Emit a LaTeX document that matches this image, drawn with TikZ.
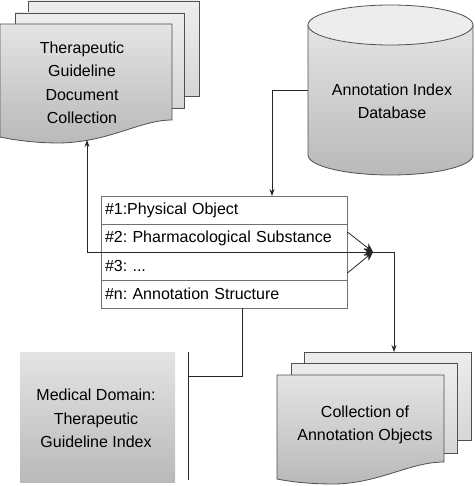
\documentclass[tikz,border=0pt]{standalone}
\usepackage{fontspec}
\setmainfont{Liberation Sans}
\usetikzlibrary{arrows.meta}
\frenchspacing
\definecolor{edgec}{HTML}{505050}
\definecolor{rowc}{HTML}{707070}
\definecolor{pglight}{HTML}{EDEDED}
\definecolor{pgdark}{HTML}{D6D6D6}
\definecolor{frtop}{HTML}{E4E4E4}
\definecolor{frbot}{HTML}{B9B9B9}
\tikzset{
  page/.style={draw=edgec, line width=0.8pt, top color=pglight, bottom color=pgdark},
  frontpage/.style={draw=edgec, line width=0.8pt, top color=frtop, bottom color=frbot},
  label/.style={font=\fontsize{16}{23.5}\selectfont, align=center, inner sep=0pt},
  rowbox/.style={draw=rowc, line width=0.8pt, fill=white, minimum width=246pt, minimum height=28pt,
     text width=238pt, inner xsep=4pt, align=left, font=\fontsize{16}{19}\selectfont},
  conn/.style={draw=black!85, line width=0.8pt},
  arr/.style={conn, -{Stealth[length=7pt,width=5pt]}},
  bigarr/.style={conn, -{Stealth[length=9pt,width=8pt]}},
}
\begin{document}
\begin{tikzpicture}[x=1pt,y=-1pt]
\useasboundingbox (0,0) rectangle (474,486);
% ---- Therapeutic guideline document stack
\path[page] (28,1) rectangle (199,96);
\path[page] (15,13) rectangle (184,108);
\path[frontpage] (0,24) -- (172,24) -- (172,120) .. controls (140,120) and (110,142) .. (60,143)
   .. controls (30,143) and (10,139) .. (0,137) -- cycle;
\node[label] (docA) at (82,83) {Therapeutic\\Guideline\\Document\\Collection};
\coordinate (docAin) at (87,140);
% ---- Database cylinder
\path[frontpage] (308,25) -- (308,155) .. controls (308,166) and (345,175) .. (390.5,175)
   .. controls (436,175) and (473,166) .. (473,155) -- (473,25) -- cycle;
\path[draw=edgec, line width=0.8pt, fill=pglight] (390.5,25) ellipse [x radius=82.5, y radius=20];
\node[label] (db) at (392,101.5) {Annotation Index\\Database};
\coordinate (dbout) at (308,90);
% ---- Annotation structure box
\node[rowbox] (r1) at (224,210) {\#1:Physical Object};
\node[rowbox] (r2) at (224,238) {\#2: Pharmacological Substance};
\node[rowbox] (r3) at (224,266) {\#3: ...};
\node[rowbox] (r4) at (224,294) {\#n: Annotation Structure};
\coordinate (rin) at (272,196);
\coordinate (lj) at (87,252);
\coordinate (tip) at (373,252);
% ---- Collection of annotation objects stack
\path[page] (304,352) rectangle (471,440);
\path[page] (291,363) rectangle (457,453);
\path[frontpage] (277,375) -- (444,375) -- (444,462) .. controls (410,462) and (380,483) .. (335,484)
   .. controls (305,484) and (287,481) .. (277,479) -- cycle;
\node[label] (coll) at (365,425) {Collection of\\Annotation Objects};
\coordinate (collin) at (394,352);
% ---- Medical domain box
\path[top color=frtop, bottom color=frbot] (20,352) rectangle (175,482);
\node[label] (med) at (96,418.5) {Medical Domain:\\Therapeutic\\Guideline Index};
\coordinate (anntop) at (188,352);
\coordinate (annbot) at (188,480);
\coordinate (annmid) at (188,376);
% ---- connectors
\draw[arr] (dbout) -| (rin);
\draw[arr] (lj) -- (docAin);
\draw[conn] (lj) -- (tip);
\draw[bigarr] ([yshift=6pt]r2.east) -- (tip);
\draw[bigarr] ([yshift=-7pt]r3.east) -- (tip);
\draw[bigarr] (lj) -- (tip);
\draw[arr] (tip) -| (collin);
\draw[conn] ([xshift=18pt]r4.south) |- (annmid);
\draw[conn] (anntop) -- (annbot);
\end{tikzpicture}
\end{document}
